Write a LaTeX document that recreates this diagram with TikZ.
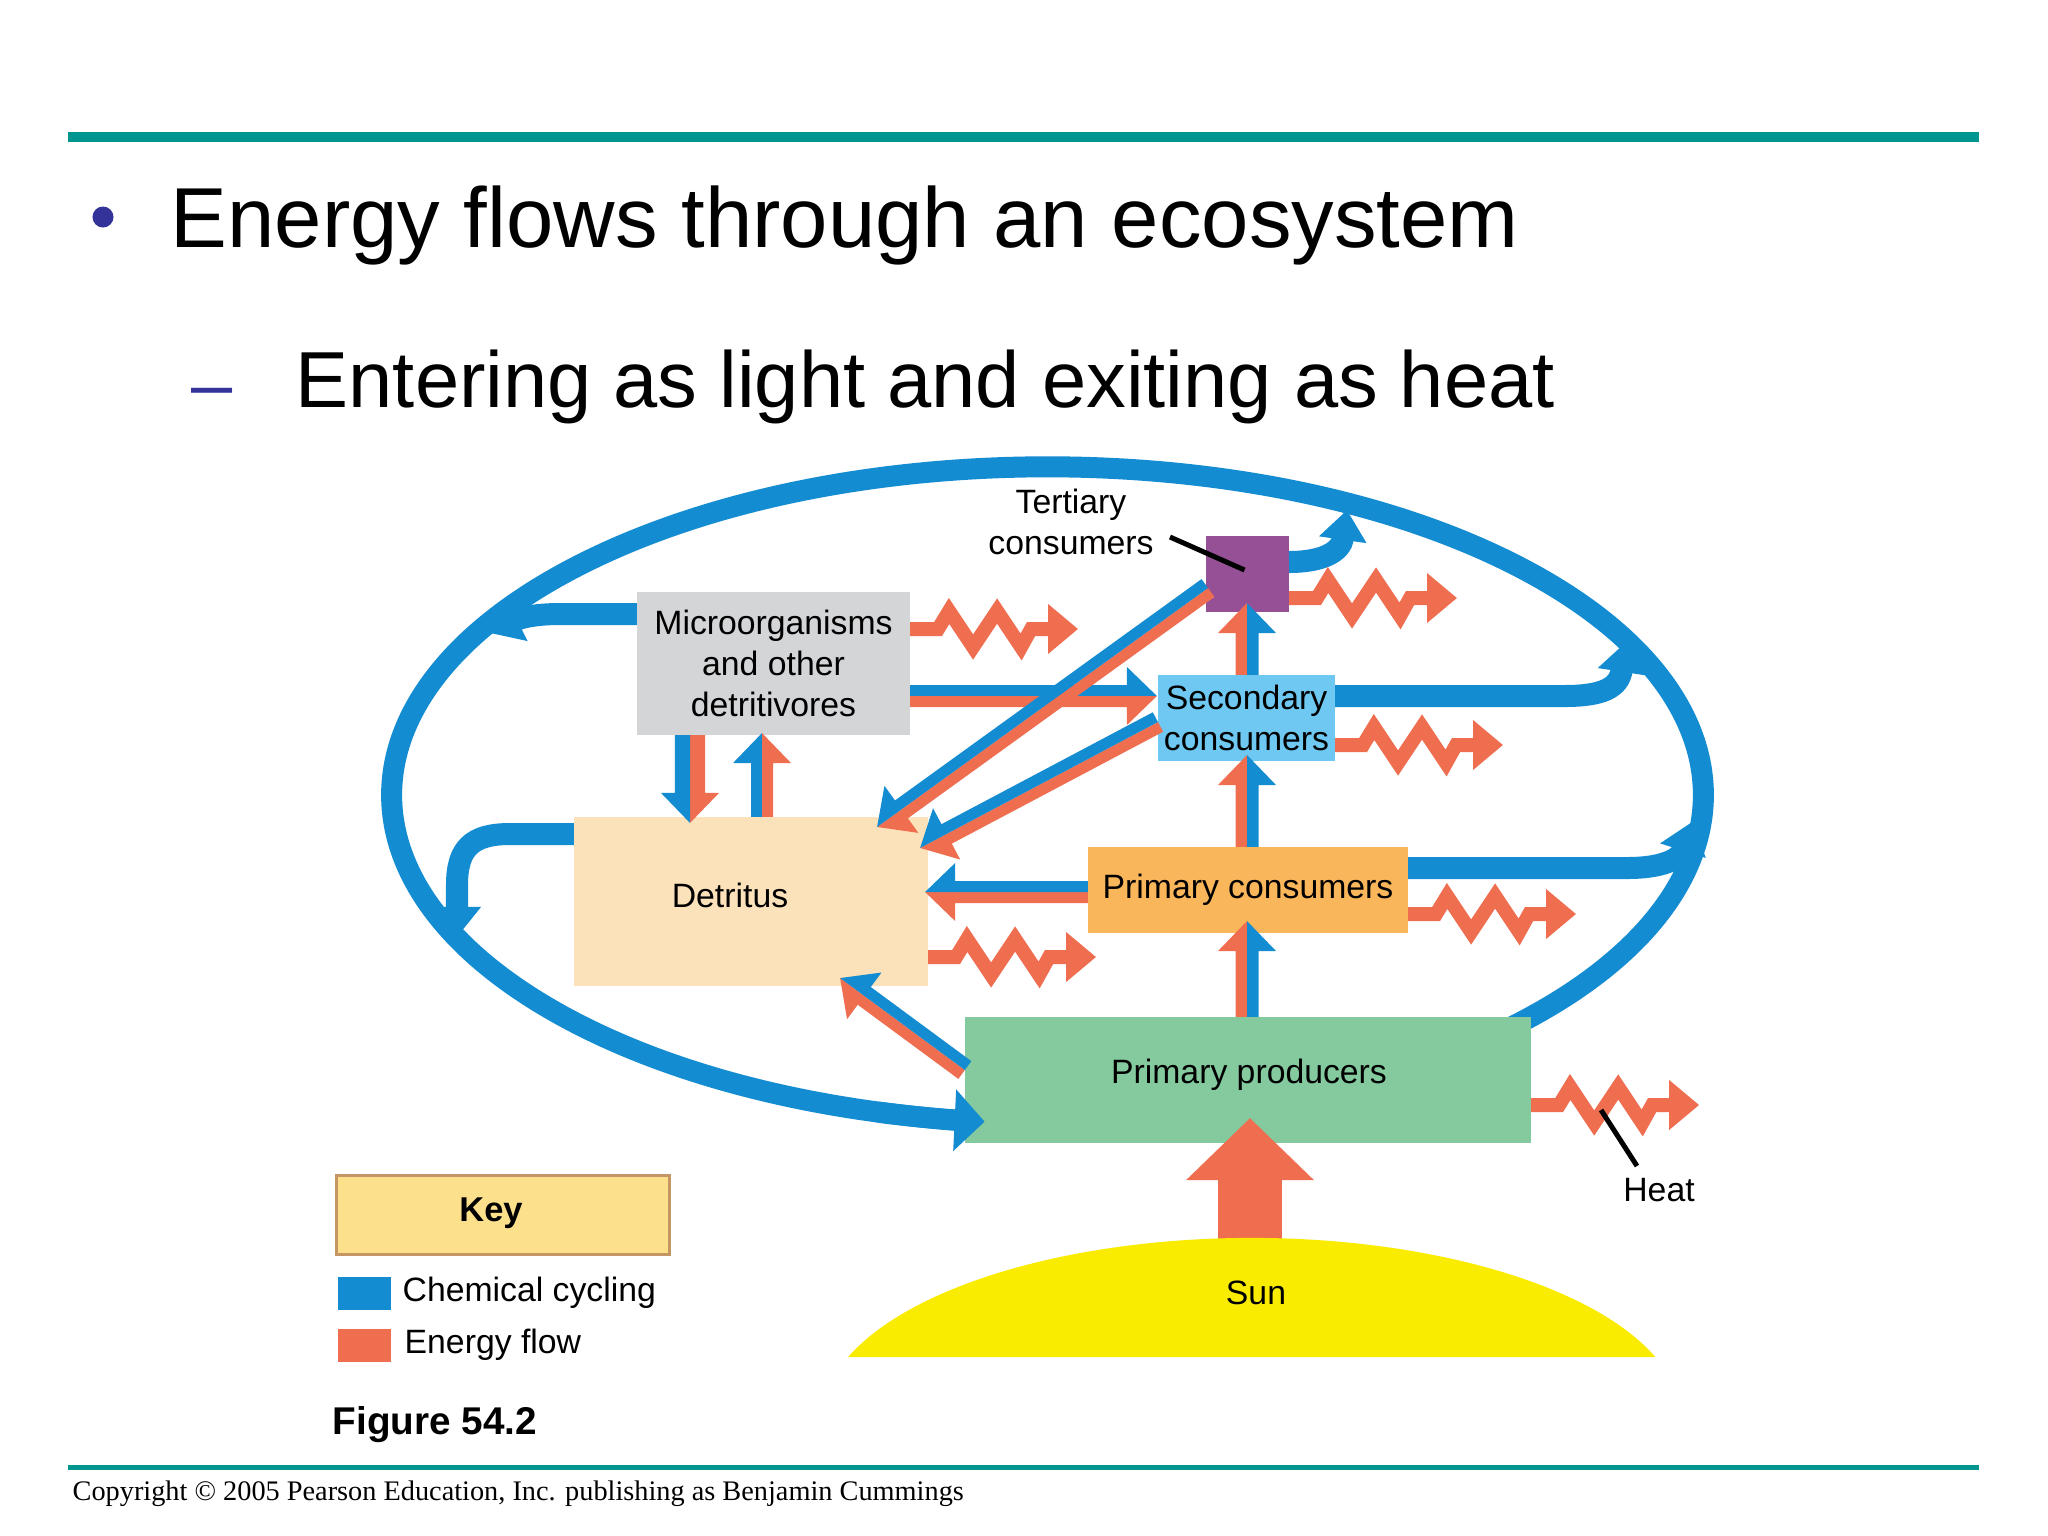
\documentclass[tikz,border=0pt]{standalone}
\usepackage{fontspec}
\setmainfont{Liberation Sans}
\newfontfamily\serifft{Liberation Serif}
\usetikzlibrary{calc,arrows.meta}
\definecolor{cblue}{RGB}{20,140,210}
\definecolor{corange}{RGB}{240,110,80}
\definecolor{teal2}{RGB}{0,150,143}
\definecolor{bul}{RGB}{51,51,153}
\definecolor{microc}{RGB}{212,213,215}
\definecolor{detrc}{RGB}{252,226,186}
\definecolor{tertc}{RGB}{150,80,150}
\definecolor{secc}{RGB}{110,200,242}
\definecolor{pcc}{RGB}{250,182,90}
\definecolor{prodc}{RGB}{132,202,158}
\definecolor{sunc}{RGB}{250,236,0}
\definecolor{keyc}{RGB}{252,224,140}
\definecolor{keyb}{RGB}{196,150,100}
\newcommand\dfont{\fontsize{9.6}{11.6}\selectfont}
% split arrow: #1 from, #2 to, #3 left colour, #4 right colour, #5 half shaft width
\newcommand\splitarrow[5]{%
  \coordinate (hb) at ($(#2)!0.30cm!(#1)$);
  \fill[#3] (#1) -- ($(#1)!#5!90:(#2)$) -- ($(hb)!#5!90:(#2)$) -- ($(hb)!0.29cm!90:(#2)$) -- (#2) -- cycle;
  \fill[#4] (#1) -- ($(#1)!#5!-90:(#2)$) -- ($(hb)!#5!-90:(#2)$) -- ($(hb)!0.29cm!-90:(#2)$) -- (#2) -- cycle;
}
\newcommand\heatzig[1]{\draw[heat] (#1) -- ++(28,0) -- ++(11,-18) -- ++(24,36) -- ++(24,-36) -- ++(24,36) -- ++(10,-18) -- ++(47,0);}
\tikzset{
  box/.style={inner sep=0pt, outer sep=0pt, align=center, font=\dfont},
  chem/.style={draw=cblue, line width=0.22cm},
  chemtip/.style={-{Triangle[length=0.30cm,width=0.46cm]}},
  heat/.style={draw=corange, line width=0.14cm, line join=miter, -{Triangle[length=0.30cm,width=0.48cm]}},
  pointer/.style={draw=black, line width=0.05cm},
  lbl/.style={inner sep=0pt, font=\dfont},
}
\begin{document}
\begin{tikzpicture}[x=0.01cm, y=-0.01cm]
\useasboundingbox (0,0) rectangle (2048,1536);
\fill[white] (0,0) rectangle (2048,1536);

% slide frame
\draw[teal2, line width=0.10cm] (68,137) -- (1979,137);
\draw[teal2, line width=0.055cm] (68,1467.5) -- (1979,1467.5);
\fill[bul] (103,217) circle[radius=0.105cm];
\node[anchor=base west, inner sep=0pt, font=\fontsize{24.2}{28}\selectfont] (title) at (170,247) {Energy flows through an ecosystem};
\node[anchor=base west, inner sep=0pt, text=bul, font=\fontsize{21}{24}\selectfont] (dash) at (191,409) {–};
\node[anchor=base west, inner sep=0pt, font=\fontsize{22.6}{26}\selectfont] (sub) at (295,407) {Entering as light and exiting as heat};
\node[anchor=base west, inner sep=0pt, font=\serifft\fontsize{8.05}{10}\selectfont] (copy) at (72,1500) {Copyright © 2005 Pearson Education, Inc. publishing as Benjamin Cummings};

% big cycling ring
\coordinate (ellc) at (1047.5,795);
\draw[chem, line width=0.21cm] ($(ellc)+(-46:6.555cm and 3.28cm)$) arc[start angle=-46, end angle=262, x radius=6.555cm, y radius=3.28cm];

% boxes
\node[box, fill=microc, minimum width=2.73cm, minimum height=1.43cm] (micro) at (773.5,663.5) {Microorganisms\\and other\\detritivores};
\node[box, fill=detrc, minimum width=3.54cm, minimum height=1.69cm] (detr) at (751,901.5) {};
\node[lbl] (detrlbl) at (730,895) {Detritus};
\node[box, fill=tertc, minimum width=0.83cm, minimum height=0.76cm] (tert) at (1247.5,574) {};
\node[box, fill=secc, minimum width=1.77cm, minimum height=0.86cm] (sec) at (1246.5,718) {Secondary\\consumers};
\node[box, fill=pcc, minimum width=3.20cm, minimum height=0.86cm] (pc) at (1248,890) {Primary consumers};
\node[box, fill=prodc, minimum width=5.66cm, minimum height=1.26cm] (prod) at (1248,1080) {};
\node[lbl] (prodlbl) at (1249,1075) {Primary producers};

% end of the ring, entering the producers
\draw[chem, line width=0.21cm, -{Triangle[length=0.30cm,width=0.60cm]}] ($(ellc)+(255:6.555cm and 3.28cm)$) arc[start angle=255, end angle=264.5, x radius=6.555cm, y radius=3.28cm];

% sun and light
\coordinate (suntop) at (1250,1250);
\coordinate (lighttip) at ($(prod.south)+(2,-25)$);
\draw[corange, line width=0.63cm, -{Triangle[length=0.62cm,width=1.24cm]}] (suntop) -- (lighttip);
\fill[sunc] (1655.4,1357) arc[start angle=20.25, end angle=159.75, x radius=4.30cm, y radius=1.82cm] -- cycle;
\node[lbl] (sun) at (1256,1293) {Sun};

% chemical cycling back to the ring
\coordinate (r1) at (490,633);
\draw[chem, chemtip] ($(micro.west)+(0,-49.5)$) -- (560,614) .. controls (538,614) and (522,617) .. (r1);
\coordinate (r2) at (457,937);
\draw[chem, chemtip] ($(detr.west)+(0,-67.5)$) -- (510,834) .. controls (472,834) and (457,848) .. (457,885) -- (r2);
\coordinate (r3) at (1347,510);
\draw[chem, chemtip] ($(tert.east)+(0,-12)$) .. controls (1322,562) and (1341,552) .. (r3);
\coordinate (r4) at (1626,642);
\draw[chem, chemtip] ($(sec.east)+(0,-22)$) -- (1565,696) .. controls (1602,696) and (1619,688) .. (r4);
\coordinate (r5) at (1692,822);
\draw[chem, chemtip] ($(pc.east)+(0,-22)$) -- (1628,868) .. controls (1660,868) and (1680,860) .. (r5);

% split arrows (chemical + energy)
\coordinate (a1) at ($(micro.east)+(0,32.5)$);
\coordinate (b1) at ($(sec.west)+(-1,-22)$);
\splitarrow{a1}{b1}{cblue}{corange}{0.11cm}
\coordinate (a2) at ($(tert.west)+(2,14)$);
\coordinate (b2) at ($(detr.north east)+(-51,10)$);
\splitarrow{a2}{b2}{corange}{cblue}{0.11cm}
\coordinate (a3) at ($(sec.west)+(0,4)$);
\coordinate (b3) at ($(detr.north east)+(-8,31)$);
\splitarrow{a3}{b3}{corange}{cblue}{0.11cm}
\coordinate (a4) at ($(pc.west)+(0,2)$);
\coordinate (b4) at ($(detr.east)+(-3,-9.5)$);
\splitarrow{a4}{b4}{corange}{cblue}{0.11cm}
\coordinate (a5) at ($(prod.west)+(0,-10)$);
\coordinate (b5) at ($(detr.south east)+(-88,-8)$);
\splitarrow{a5}{b5}{corange}{cblue}{0.11cm}
\coordinate (a6) at ($(prod.north)+(-1,0)$);
\coordinate (b6) at ($(pc.south)+(-1,-12)$);
\splitarrow{a6}{b6}{corange}{cblue}{0.115cm}
\coordinate (a7) at ($(pc.north)+(-1,0)$);
\coordinate (b7) at ($(sec.south)+(0.5,-6)$);
\splitarrow{a7}{b7}{corange}{cblue}{0.115cm}
\coordinate (a8) at ($(sec.north)+(0.5,0)$);
\coordinate (b8) at ($(tert.south)+(-0.5,-9)$);
\splitarrow{a8}{b8}{corange}{cblue}{0.115cm}
\coordinate (a9) at ($(micro.south)+(-83.5,0)$);
\coordinate (b9) at ($(detr.north)+(-61,6)$);
\splitarrow{a9}{b9}{corange}{cblue}{0.15cm}
\coordinate (a10) at ($(detr.north)+(11,0)$);
\coordinate (b10) at ($(micro.south)+(-11.5,-2)$);
\splitarrow{a10}{b10}{cblue}{corange}{0.11cm}

% heat losses
\coordinate (h1) at ($(micro.east)+(0,-34.5)$);
\heatzig{h1}
\coordinate (h2) at ($(tert.east)+(0,24)$);
\heatzig{h2}
\coordinate (h3) at ($(sec.east)+(0,27)$);
\heatzig{h3}
\coordinate (h4) at ($(pc.east)+(0,24)$);
\heatzig{h4}
\coordinate (h5) at ($(detr.east)+(0,55.5)$);
\heatzig{h5}
\coordinate (h6) at ($(prod.east)+(0,25)$);
\heatzig{h6}

% labels with pointers
\node[lbl, align=center] (tertlbl) at (1071,522) {Tertiary\\consumers};
\coordinate (tp1) at (1170,537);
\draw[pointer] (tp1) -- ($(tert.center)+(-3,-4)$);
\node[lbl] (heatlbl) at (1659,1190) {Heat};
\coordinate (hp1) at (1637,1166);
\coordinate (hp2) at (1601,1110);
\draw[pointer] (hp1) -- (hp2);

% key
\node[draw=keyb, line width=0.03cm, fill=keyc, minimum width=3.32cm, minimum height=0.78cm, inner sep=0pt] (key) at (503,1215) {};
\node[inner sep=0pt, font=\fontsize{9.8}{12}\selectfont\bfseries] (keylbl) at (491,1213) {Key};
\node[fill=cblue, minimum width=0.53cm, minimum height=0.33cm, inner sep=0pt] (kblue) at (364.5,1293.5) {};
\node[lbl, anchor=west] (kbluet) at (402,1293) {Chemical cycling};
\node[fill=corange, minimum width=0.53cm, minimum height=0.33cm, inner sep=0pt] (korange) at (364.5,1345) {};
\node[lbl, anchor=west] (korangt) at (404,1345) {Energy flow};
\node[anchor=west, inner sep=0pt, font=\fontsize{11}{13}\selectfont\bfseries] (fig) at (332,1425) {Figure 54.2};
\end{tikzpicture}
\end{document}
